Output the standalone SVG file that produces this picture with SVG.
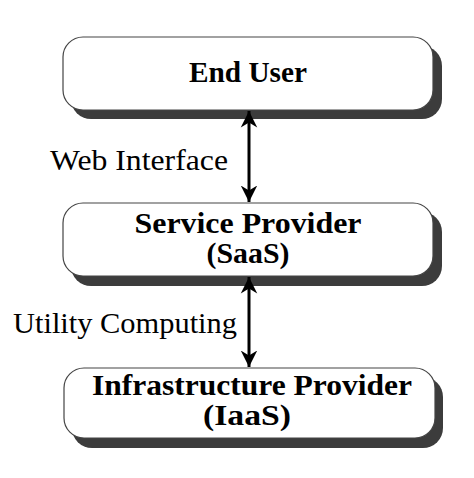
<svg xmlns="http://www.w3.org/2000/svg" width="474" height="478" viewBox="0 0 474 478">
<style>
.shadow{fill:#3c3c3c}
.box{fill:#fff;stroke:#444;stroke-width:1.2}
.t{font-family:"Liberation Serif","DejaVu Serif",serif;font-weight:bold;font-size:30px;fill:#000;text-anchor:middle}
.l{font-family:"Liberation Serif","DejaVu Serif",serif;font-size:29px;fill:#000}
.c{stroke:#000;stroke-width:3;fill:none}
</style>
<defs>
<marker id="ah" viewBox="0 0 10 10" refX="10" refY="5" markerWidth="5.5" markerHeight="6" orient="auto-start-reverse" markerUnits="strokeWidth">
<path d="M0,0 L10,5 L0,10 L3,5 z" fill="#000"/>
</marker>
</defs>
<rect width="474" height="478" fill="#fff"/>
<g id="end-user">
<rect class="shadow" x="71" y="46" width="371" height="73" rx="20"/>
<rect class="box" x="63" y="37" width="370" height="73" rx="20"/>
<text class="t" x="248" y="82" textLength="118" lengthAdjust="spacingAndGlyphs">End User</text>
</g>
<g id="service-provider">
<rect class="shadow" x="71" y="212" width="371" height="74" rx="20"/>
<rect class="box" x="63" y="203" width="370" height="73" rx="20"/>
<text class="t" x="248" y="233" textLength="227" lengthAdjust="spacingAndGlyphs">Service Provider</text>
<text class="t" x="248" y="263" textLength="83" lengthAdjust="spacingAndGlyphs">(SaaS)</text>
</g>
<g id="infrastructure-provider">
<rect class="shadow" x="72" y="377" width="371" height="71" rx="20"/>
<rect class="box" x="64" y="368" width="371" height="70" rx="20"/>
<text class="t" x="252" y="395" textLength="320" lengthAdjust="spacingAndGlyphs">Infrastructure Provider</text>
<text class="t" x="247" y="425" textLength="88" lengthAdjust="spacingAndGlyphs">(IaaS)</text>
</g>
<g id="connectors">
<line class="c" x1="249" y1="111" x2="249" y2="202" marker-start="url(#ah)" marker-end="url(#ah)"/>
<line class="c" x1="249" y1="277" x2="249" y2="367" marker-start="url(#ah)" marker-end="url(#ah)"/>
<text class="l" x="50" y="170" textLength="178" lengthAdjust="spacingAndGlyphs">Web Interface</text>
<text class="l" x="13" y="333" textLength="224" lengthAdjust="spacingAndGlyphs">Utility Computing</text>
</g>
</svg>
